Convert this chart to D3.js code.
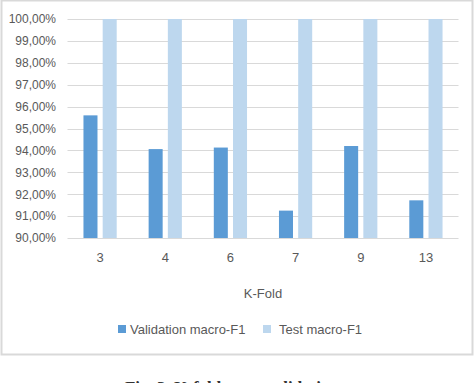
<!DOCTYPE html>
<html>
<head>
<meta charset="utf-8">
<script src="https://cdn.jsdelivr.net/npm/d3@7"></script>
<style>
  body { margin: 0; background: #fff; }
  text { font-family: "Liberation Sans", Arial, sans-serif; fill: #595959; }
</style>
</head>
<body>
<script>
// K-fold values
var folds = ["3", "4", "6", "7", "9", "13"];
var seriesNames = ["Validation macro-F1", "Test macro-F1"];
var validation = [95.6, 94.06, 94.13, 91.25, 94.2, 91.72];
var test = [100, 100, 100, 100, 100, 100];
var yTicks = [90, 91, 92, 93, 94, 95, 96, 97, 98, 99, 100];
var colors = ["#5b9bd5", "#bdd7ee"];

function chart() {
  var W = 474, H = 383;
  var svg = d3.select("body").append("svg")
      .attr("width", W)
      .attr("height", H);

  // outer frame of the chart area
  svg.append("rect")
      .attr("x", 1.5).attr("y", 0.5)
      .attr("width", 471).attr("height", 354)
      .attr("fill", "#fff")
      .attr("stroke", "#d9d9d9")
      .attr("stroke-width", 2);

  var x = d3.scaleBand().domain(folds).range([67.5, 458.5]).paddingInner(0.49).paddingOuter(0.245);
  var xs = d3.scaleBand().domain(seriesNames).range([0, x.bandwidth()]).paddingInner(0.27);
  var y = d3.scaleLinear().domain([90, 100]).range([238, 19]);

  // grid
  svg.append("g").selectAll("line")
      .data(yTicks)
      .enter().append("line")
      .attr("x1", 67.5).attr("x2", 458.5)
      .attr("y1", function(d) { return Math.round(y(d)) + 0.5; })
      .attr("y2", function(d) { return Math.round(y(d)) + 0.5; })
      .attr("stroke", "#d9d9d9")
      .attr("stroke-width", 1);

  // y axis labels
  var yAxis = d3.axisLeft(y).tickValues(yTicks).tickSize(0).tickPadding(0)
      .tickFormat(function(d) { return d3.format(".2f")(d).replace(".", ",") + "%"; });
  var gy = svg.append("g").attr("transform", "translate(56,0)").call(yAxis);
  gy.select(".domain").remove();
  gy.selectAll("text").style("font-family", "'Liberation Sans', sans-serif").style("font-size", "12px").attr("fill", "#595959");

  var data = folds.map(function(f, i) { return { fold: f, vals: [validation[i], test[i]] }; });

  var groups = svg.append("g").selectAll("g")
      .data(data)
      .enter().append("g")
      .attr("transform", function(d) { return "translate(" + x(d.fold) + ",0)"; });

  groups.selectAll("rect")
      .data(function(d) { return d.vals.map(function(v, j) { return { s: seriesNames[j], v: v, j: j }; }); })
      .enter().append("rect")
      .attr("x", function(d) { return xs(d.s); })
      .attr("width", xs.bandwidth())
      .attr("y", function(d) { return y(d.v); })
      .attr("height", function(d) { return y(90) - y(d.v); })
      .attr("fill", function(d) { return colors[d.j]; });

  // x axis
  var xAxis = d3.axisBottom(x).tickSize(0).tickPadding(0);
  var gx = svg.append("g").attr("transform", "translate(0,253)").call(xAxis);
  gx.select(".domain").remove();
  gx.selectAll("text").style("font-family", "'Liberation Sans', sans-serif").style("font-size", "13px").attr("fill", "#595959").attr("dy", "0.71em");

  svg.append("text")
      .attr("x", 263).attr("y", 298)
      .attr("text-anchor", "middle")
      .style("font-size", "13px")
      .text("K-Fold");

  // legend
  var legendX = [118, 263];
  var lg = svg.append("g").selectAll("g")
      .data(seriesNames)
      .enter().append("g")
      .attr("transform", function(d, i) { return "translate(" + legendX[i] + ",325)"; });
  lg.append("rect").attr("width", 8).attr("height", 8)
      .attr("fill", function(d, i) { return colors[i]; });
  lg.append("text")
      .attr("x", function(d, i) { return i === 0 ? 12 : 16; })
      .attr("y", 9)
      .style("font-size", "13px")
      .text(function(d) { return d; });

  // caption, cut by the bottom edge like in the source
  svg.append("text")
      .attr("x", 232).attr("y", 393)
      .attr("text-anchor", "middle")
      .style("font-family", "'Liberation Serif', serif")
      .style("font-size", "17px")
      .style("font-weight", "bold")
      .style("fill", "#333")
      .text("Fig. 3.  K-fold cross validation");
}

window.onload = chart();
</script>
</body>
</html>
